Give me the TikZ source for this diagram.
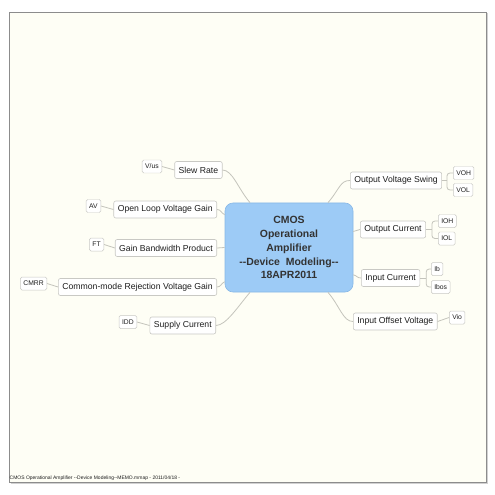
\documentclass[tikz,border=0pt]{standalone}
\usepackage{fontspec}
\setmainfont{Liberation Sans}
\usepackage{xcolor}
\usepackage{tikz}
\usetikzlibrary{calc}
\definecolor{paper}{HTML}{FEFEF5}
\definecolor{rim}{HTML}{8C8C8C}
\definecolor{hubfill}{HTML}{9DCBF6}
\definecolor{hubline}{HTML}{88B8E6}
\definecolor{boxline}{HTML}{C9C9C4}
\definecolor{wire}{HTML}{C4C4BC}
\definecolor{ink}{HTML}{1E1E1E}
\definecolor{hubink}{HTML}{333333}
\newcommand{\dblhy}{-\kern0pt-}
\tikzset{
  hub/.style={draw=hubline, fill=hubfill, rounded corners=8bp, line width=0.6pt,
    minimum width=128bp, minimum height=89bp, align=center, text=hubink,
    font=\fontsize{10.5}{14}\selectfont\bfseries},
  topic/.style={draw=boxline, fill=white, rounded corners=2bp, line width=0.6pt,
    minimum height=17bp, inner xsep=4bp, inner ysep=0pt, text=ink,
    font=\fontsize{8.7}{10}\selectfont},
  leaf/.style={draw=boxline, fill=white, rounded corners=1.5bp, line width=0.5pt,
    minimum height=13bp, inner xsep=3bp, inner ysep=0pt, text=ink,
    font=\fontsize{6.8}{8}\selectfont},
  link/.style={draw=wire, line width=0.8pt},
  fork/.style={link, rounded corners=3bp},
  foot/.style={text=ink, font=\fontsize{5}{6}\selectfont, inner sep=0pt, anchor=south west}
}

\begin{document}
\begin{tikzpicture}[x=1bp,y=-1bp]
  \useasboundingbox (0,0) rectangle (495,495);

  % sheet
  \draw[draw=rim!40, line width=1pt] (10.5,483) -- (487,483) -- (487,13);
  \draw[fill=paper, draw=rim, line width=0.8pt] (9,12) rectangle (486,482);

  \node[hub] (cmos) at (289,247.5) {CMOS\\Operational\\Amplifier\\\dblhy Device~~Modeling\dblhy\\18APR2011};

  % left branch
  \node[topic,anchor=east] (slew) at (222.5,170) {Slew Rate};
  \node[topic,anchor=east] (olvg) at (217,209.5) {Open Loop Voltage Gain};
  \node[topic,anchor=east] (gbp) at (217,248) {Gain Bandwidth Product};
  \node[topic,anchor=east] (cmrr) at (217,287) {Common-mode Rejection Voltage Gain};
  \node[topic,anchor=east] (supply) at (216,325.5) {Supply Current};

  \node[leaf,anchor=east] (vus) at (162,166.5) {V/us};
  \node[leaf,anchor=east] (av) at (101,206) {AV};
  \node[leaf,anchor=east] (ft) at (104,244.5) {FT};
  \node[leaf,anchor=east] (cmrrl) at (47,283.5) {CMRR};
  \node[leaf,anchor=east] (idd) at (137,322) {IDD};

  % right branch
  \node[topic,anchor=west] (ovs) at (350,180.5) {Output Voltage Swing};
  \node[topic,anchor=west] (oc) at (360,229.5) {Output Current};
  \node[topic,anchor=west] (ic) at (361,278) {Input Current};
  \node[topic,anchor=west] (iov) at (353,321.5) {Input Offset Voltage};

  \node[leaf,anchor=west] (voh) at (453,173) {VOH};
  \node[leaf,anchor=west] (vol) at (453,190) {VOL};
  \node[leaf,anchor=west] (ioh) at (438,221) {IOH};
  \node[leaf,anchor=west] (iol) at (438,238.5) {IOL};
  \node[leaf,anchor=west] (ib) at (431,269) {Ib};
  \node[leaf,anchor=west] (ibos) at (431,287) {Ibos};
  \node[leaf,anchor=west] (vio) at (449,317.5) {Vio};

  % hub to topics
  \draw[link] (slew.east) .. controls +(10,0) and +(-12,-14) .. (cmos.131);
  \draw[link] (olvg.east) .. controls +(4,0) and +(-4,-2) .. (cmos.153);
  \draw[link] (gbp.east) -- (cmos.west);
  \draw[link] (cmrr.east) .. controls +(4,0) and +(-4,2) .. (cmos.208);
  \draw[link] (supply.east) .. controls +(10,0) and +(-12,14) .. (cmos.229);
  \draw[link] (ovs.west) .. controls +(-10,0) and +(12,-14) .. (cmos.49);
  \draw[link] (oc.west) .. controls +(-3,0) and +(3,0) .. (cmos.14.5);
  \draw[link] (ic.west) .. controls +(-4,0) and +(4,1) .. (cmos.337);
  \draw[link] (iov.west) .. controls +(-10,0) and +(12,14) .. (cmos.311);

  % topics to leaves
  \draw[link] (vus.east) -- (slew.west);
  \draw[link] (av.east) -- (olvg.west);
  \draw[link] (ft.east) -- (gbp.west);
  \draw[link] (cmrrl.east) -- (cmrr.west);
  \draw[link] (idd.east) -- (supply.west);
  \draw[link] (iov.east) -- (vio.west);

  \coordinate (ovsj) at ($(ovs.east)+(5,0)$);
  \coordinate (ocj) at ($(oc.east)+(6,0)$);
  \coordinate (icj) at ($(ic.east)+(6,0)$);
  \draw[link] (ovs.east) -- (ovsj);
  \draw[fork] (voh.west) -| (ovsj) |- (vol.west);
  \draw[link] (oc.east) -- (ocj);
  \draw[fork] (ioh.west) -| (ocj) |- (iol.west);
  \draw[link] (ic.east) -- (icj);
  \draw[fork] (ib.west) -| (icj) |- (ibos.west);

  \node[foot] (memo) at (9.5,481) {CMOS Operational Amplifier \dblhy Device Modeling\dblhy MEMO.mmap - 2011/04/18 -};
\end{tikzpicture}
\end{document}
